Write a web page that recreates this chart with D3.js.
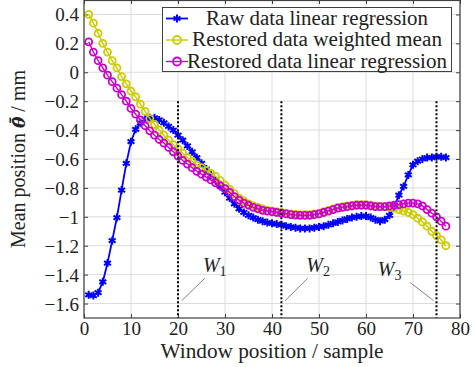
<!DOCTYPE html>
<html><head><meta charset="utf-8">
<script src="https://cdn.jsdelivr.net/npm/d3@7"></script>
<style>
body{margin:0;background:#fff}
text{font-family:"Liberation Serif","Times New Roman",serif;fill:#222}
</style>
</head><body>
<svg id="c" width="474" height="367"></svg>
<script>
// ---- data ----
const windowPos = d3.range(1, 78);
const rawLinReg = [-1.54,-1.545,-1.525,-1.45,-1.32,-1.165,-1.005,-0.815,-0.63,-0.48,
 -0.395,-0.35,-0.325,-0.315,-0.315,-0.33,-0.35,-0.375,-0.40,-0.435,
 -0.47,-0.51,-0.55,-0.59,-0.63,-0.67,-0.71,-0.75,-0.79,-0.83,
 -0.87,-0.91,-0.945,-0.97,-0.99,-1.005,-1.02,-1.03,-1.04,-1.045,
 -1.05,-1.055,-1.065,-1.07,-1.075,-1.08,-1.08,-1.08,-1.075,-1.07,
 -1.065,-1.055,-1.045,-1.035,-1.025,-1.015,-1.005,-1.0,-0.995,-0.995,
 -1.005,-1.02,-1.03,-1.02,-0.99,-0.93,-0.85,-0.79,-0.71,-0.64,
 -0.615,-0.60,-0.59,-0.59,-0.585,-0.585,-0.59];
const restoredWMean = [0.40,0.34,0.27,0.20,0.14,0.08,0.03,-0.03,-0.08,-0.13,
 -0.17,-0.22,-0.27,-0.32,-0.36,-0.40,-0.435,-0.47,-0.50,-0.53,
 -0.56,-0.59,-0.615,-0.64,-0.66,-0.68,-0.70,-0.72,-0.75,-0.78,
 -0.81,-0.84,-0.87,-0.89,-0.91,-0.925,-0.935,-0.945,-0.955,-0.96,
 -0.965,-0.97,-0.975,-0.98,-0.983,-0.985,-0.985,-0.985,-0.98,-0.975,
 -0.965,-0.955,-0.945,-0.935,-0.93,-0.925,-0.92,-0.915,-0.915,-0.915,
 -0.92,-0.925,-0.93,-0.93,-0.935,-0.94,-0.95,-0.96,-0.97,-0.985,
 -1.01,-1.035,-1.065,-1.10,-1.13,-1.16,-1.20];
const restoredLinReg = [0.21,0.14,0.08,0.03,-0.02,-0.065,-0.11,-0.155,-0.20,-0.25,
 -0.29,-0.33,-0.37,-0.405,-0.435,-0.465,-0.49,-0.52,-0.55,-0.58,
 -0.61,-0.635,-0.66,-0.685,-0.705,-0.725,-0.745,-0.765,-0.785,-0.805,
 -0.83,-0.86,-0.885,-0.905,-0.92,-0.935,-0.945,-0.955,-0.96,-0.965,
 -0.97,-0.975,-0.98,-0.985,-0.988,-0.99,-0.99,-0.99,-0.985,-0.98,
 -0.97,-0.96,-0.95,-0.94,-0.935,-0.93,-0.925,-0.92,-0.92,-0.92,
 -0.925,-0.93,-0.93,-0.93,-0.925,-0.92,-0.915,-0.91,-0.905,-0.905,
 -0.91,-0.925,-0.95,-0.975,-1.0,-1.03,-1.065];
const xTicks = [0,10,20,30,40,50,60,70,80];
const yTicks = [0.4,0.2,0,-0.2,-0.4,-0.6,-0.8,-1,-1.2,-1.4,-1.6];
const seriesNames = ["Raw data linear regression","Restored data weighted mean","Restored data linear regression"];
const windowMarks = [20, 42, 75];
const windowLabels = ["1","2","3"];

// ---- drawing ----
const SERIF = '"Liberation Serif","Times New Roman",serif';
const svg = d3.select("#c");
const L = 84, R = 460, T = 0, B = 318;
const x = d3.scaleLinear().domain([0, 80]).range([L, R]);
const y = d3.scaleLinear().domain([-1.7, 0.5]).range([B, T]);
const frame = "#404040";

svg.append("defs").append("clipPath").attr("id","clip")
  .append("rect").attr("x",L).attr("y",T).attr("width",R-L).attr("height",B-T);

// grid
const grid = svg.append("g").attr("stroke","#dcdcdc").attr("stroke-width",1);
grid.selectAll(".gx").data(xTicks).join("line")
  .attr("x1",d=>x(d)).attr("x2",d=>x(d)).attr("y1",T).attr("y2",B);
grid.selectAll(".gy").data(yTicks).join("line")
  .attr("y1",d=>y(d)).attr("y2",d=>y(d)).attr("x1",L).attr("x2",R);

// axes via d3 axis (ticks inward)
const fmt = d => d === 0 ? "0" : (d < 0 ? "\u2212" : "") + String(Math.abs(d));
const axB = svg.append("g").attr("transform",`translate(0,${B})`)
  .call(d3.axisBottom(x).tickValues(xTicks).tickSize(-4).tickPadding(3).tickFormat(d=>d));
const axL = svg.append("g").attr("transform",`translate(${L},0)`)
  .call(d3.axisLeft(y).tickValues(yTicks).tickSize(-4).tickPadding(5).tickFormat(fmt));
const axT = svg.append("g").attr("transform",`translate(0,${T})`)
  .call(d3.axisTop(x).tickValues(xTicks).tickSize(-4).tickFormat(""));
const axR = svg.append("g").attr("transform",`translate(${R},0)`)
  .call(d3.axisRight(y).tickValues(yTicks).tickSize(-4).tickFormat(""));
[axB,axL,axT,axR].forEach(a=>{
  a.attr("font-family",SERIF).attr("font-size",19);
  a.select(".domain").remove();
  a.selectAll(".tick line").attr("stroke",frame);
  a.selectAll("text").attr("font-size",19).attr("fill","#222")
    .attr("font-family",SERIF).style("font-family",SERIF);
});
axB.selectAll("text").attr("dy","0.75em");
axL.selectAll("text").attr("dy","0.34em");

// series
const plot = svg.append("g").attr("clip-path","url(#clip)");
const line = d3.line().x(d=>x(d[0])).y(d=>y(d[1]));
const asterisk = r => {
  let p = "";
  [90,30,150].forEach(a=>{
    const dx = r*Math.cos(a*Math.PI/180), dy = r*Math.sin(a*Math.PI/180);
    p += `M${-dx},${-dy}L${dx},${dy}`;
  });
  return p;
};
const series = [
  {vals: rawLinReg, color:"#0000ff", mark:"ast", lw:1.8},
  {vals: restoredWMean, color:"#cccc00", mark:"circ", lw:1.4},
  {vals: restoredLinReg, color:"#cc00cc", mark:"circ", lw:1.4}
];
series.forEach(s=>{
  const pts = windowPos.map((w,i)=>[w, s.vals[i]]);
  plot.append("path").attr("d",line(pts)).attr("fill","none")
    .attr("stroke",s.color).attr("stroke-width",s.lw);
  if (s.mark === "ast") {
    plot.selectAll(null).data(pts).join("path")
      .attr("transform",d=>`translate(${x(d[0])},${y(d[1])})`)
      .attr("d",asterisk(4)).attr("stroke",s.color).attr("stroke-width",2).attr("fill","none");
  } else {
    plot.selectAll(null).data(pts).join("circle")
      .attr("cx",d=>x(d[0])).attr("cy",d=>y(d[1])).attr("r",3.5)
      .attr("fill","none").attr("stroke",s.color).attr("stroke-width",1.8);
  }
});

// vertical dotted window lines
svg.selectAll(".wl").data(windowMarks).join("line")
  .attr("x1",d=>x(d)).attr("x2",d=>x(d)).attr("y1",y(-0.2)).attr("y2",B)
  .attr("stroke","#000").attr("stroke-width",2).attr("stroke-dasharray","2,2");

// window annotations
const ann = [
  {lx1:20.8, ly1:-1.58, lx2:25.7, ly2:-1.425, tx:25.3, ty:-1.385},
  {lx1:42.8, ly1:-1.58, lx2:47.6, ly2:-1.425, tx:47.3, ty:-1.385},
  {lx1:74.4, ly1:-1.58, lx2:69.4, ly2:-1.455, tx:62.5, ty:-1.41}
];
ann.forEach((a,i)=>{
  svg.append("line").attr("x1",x(a.lx1)).attr("y1",y(a.ly1)).attr("x2",x(a.lx2)).attr("y2",y(a.ly2))
    .attr("stroke","#777").attr("stroke-width",0.9);
  const t = svg.append("text").attr("x",x(a.tx)).attr("y",y(a.ty)).attr("font-size",20);
  t.append("tspan").attr("font-style","italic").text("W");
  t.append("tspan").attr("font-size",14).attr("dy",4).text(windowLabels[i]);
});

// frame
svg.append("rect").attr("x",L).attr("y",T+0.5).attr("width",R-L).attr("height",B-T-0.5)
  .attr("fill","none").attr("stroke",frame).attr("stroke-width",1.2);

// legend
const lg = svg.append("g");
lg.append("rect").attr("x",162.5).attr("y",7.5).attr("width",289).attr("height",64)
  .attr("fill","#fff").attr("stroke",frame).attr("stroke-width",1);
const rowY = [18.5, 40, 61.5];
const textLen = [222, 250, 260];
series.forEach((s,i)=>{
  const cy = rowY[i];
  lg.append("line").attr("x1",166).attr("x2",188).attr("y1",cy).attr("y2",cy)
    .attr("stroke",s.color).attr("stroke-width",s.lw);
  if (s.mark === "ast") {
    lg.append("path").attr("transform",`translate(177,${cy})`).attr("d",asterisk(4))
      .attr("stroke",s.color).attr("stroke-width",2);
  } else {
    lg.append("circle").attr("cx",177).attr("cy",cy).attr("r",4)
      .attr("fill","none").attr("stroke",s.color).attr("stroke-width",1.8);
  }
  lg.append("text").attr("x",317).attr("y",cy+6).attr("text-anchor","middle")
    .attr("font-size",20).attr("textLength",textLen[i]).attr("lengthAdjust","spacingAndGlyphs")
    .text(seriesNames[i]);
});

// axis labels
svg.append("text").attr("x",272).attr("y",358).attr("text-anchor","middle")
  .attr("font-size",20).attr("textLength",223).attr("lengthAdjust","spacingAndGlyphs")
  .text("Window position / sample");
const yl = svg.append("text").attr("transform","translate(25,159) rotate(-90)")
  .attr("text-anchor","middle").attr("font-size",20);
yl.append("tspan").text("Mean position ");
yl.append("tspan").attr("font-style","italic").attr("font-weight","bold")
  .style("font-family",'"DejaVu Serif",serif').attr("font-size",17).text("\u03B8\u0302\u0304");
yl.append("tspan").text(" / mm");
</script>
</body></html>
